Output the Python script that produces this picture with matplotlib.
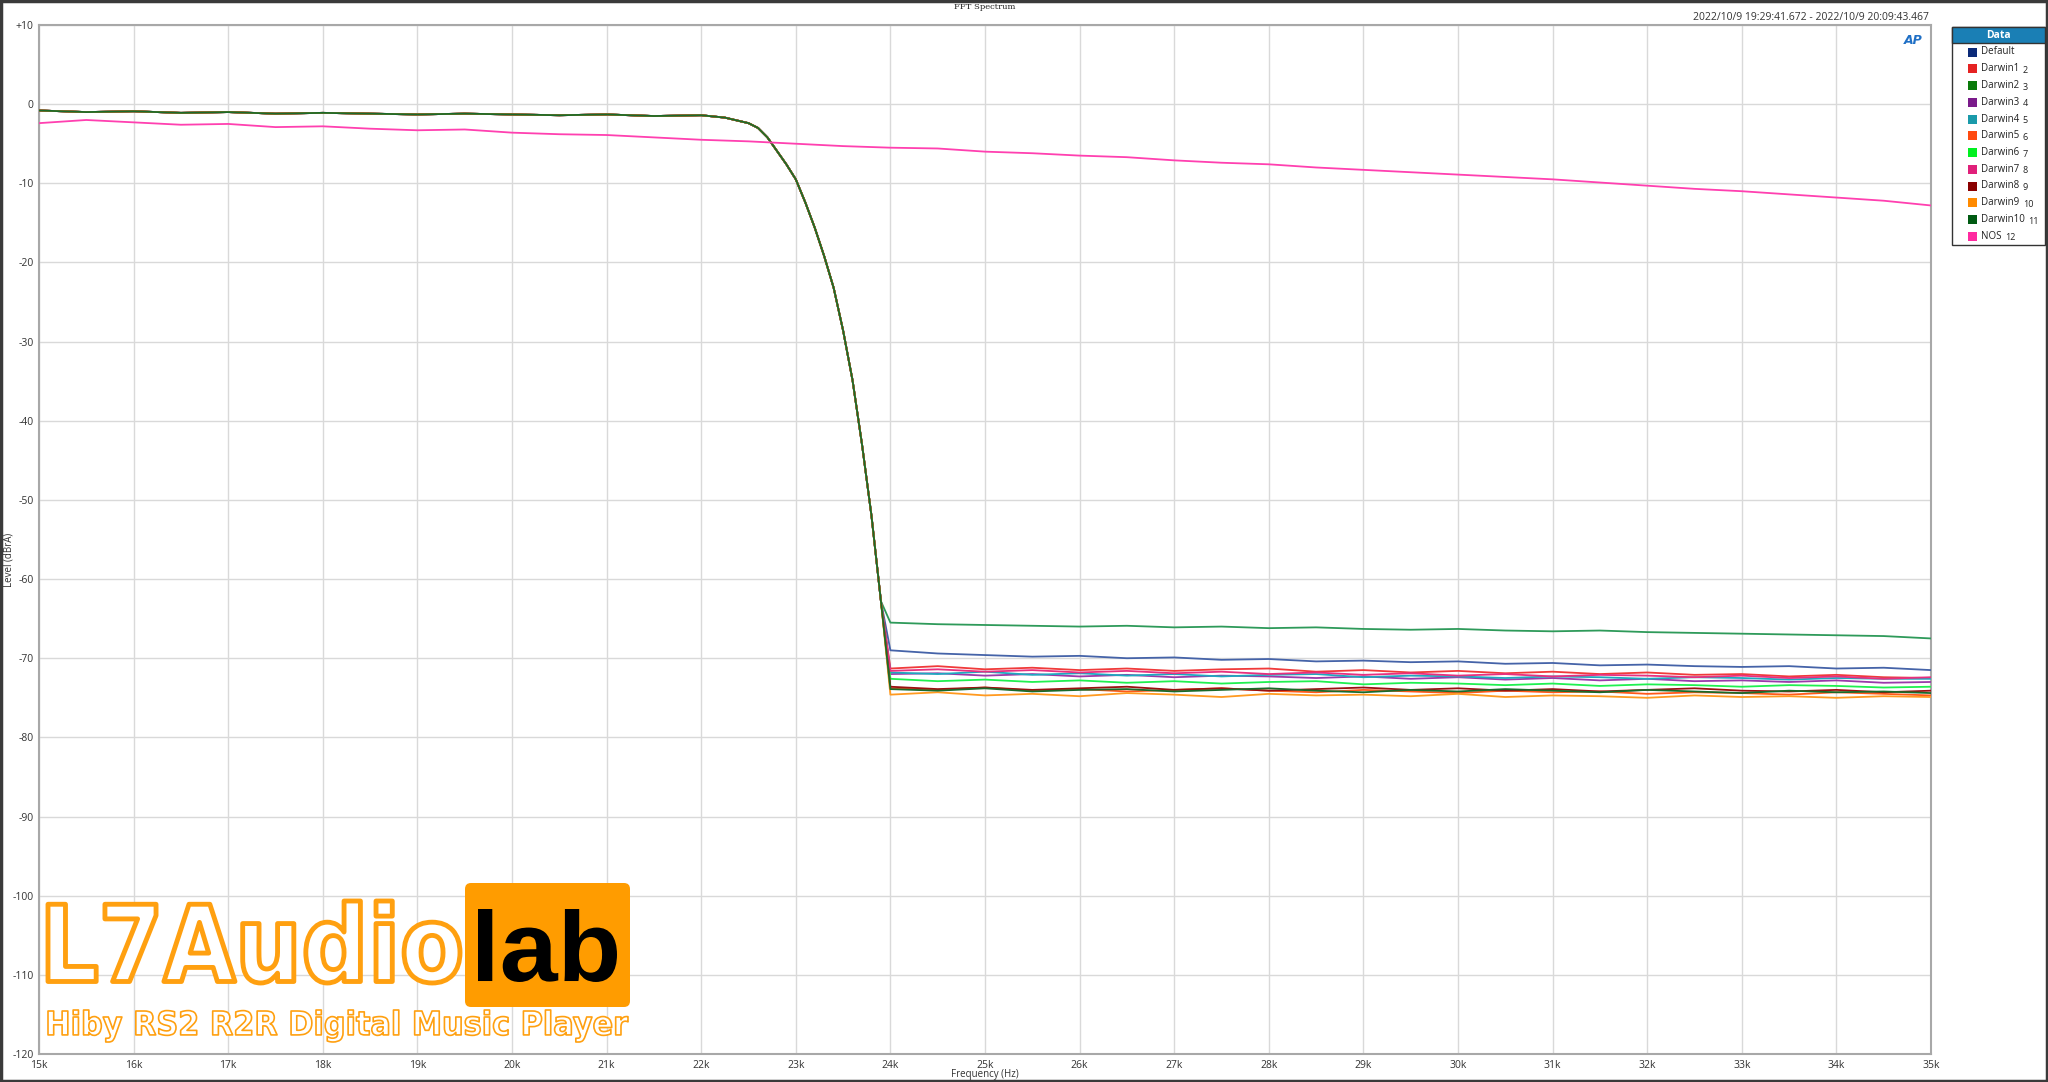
import numpy as np
import matplotlib
matplotlib.use('Agg')
import matplotlib.pyplot as plt
from matplotlib.patches import Rectangle, FancyBboxPatch, PathPatch
from matplotlib.textpath import TextPath
from matplotlib.font_manager import FontProperties
from matplotlib.transforms import Affine2D

# ---- data (frequency in kHz, level in dBrA) ----
names = ['Default', 'Darwin1', 'Darwin2', 'Darwin3', 'Darwin4', 'Darwin5',
         'Darwin6', 'Darwin7', 'Darwin8', 'Darwin9', 'Darwin10', 'NOS']
numbers = ['', '2', '3', '4', '5', '6', '7', '8', '9', '10', '11', '12']

# passband shared by all filtered curves
pass_f = [15.0, 15.5, 16.0, 16.5, 17.0, 17.5, 18.0, 18.5, 19.0, 19.5,
          20.0, 20.5, 21.0, 21.5, 22.0, 22.25]
pass_db = [-0.8, -1.0, -0.9, -1.1, -1.0, -1.2, -1.1, -1.2, -1.3, -1.2,
           -1.3, -1.4, -1.3, -1.5, -1.4, -1.7]

# roll-off
trans_f = [22.5, 22.6, 22.7, 22.8, 22.9, 23.0, 23.1, 23.2, 23.3, 23.4,
           23.5, 23.6, 23.7, 23.8, 23.9]
trans_db = [-2.4, -3.0, -4.2, -5.9, -7.6, -9.5, -12.4, -15.6, -19.2, -23.2,
            -28.6, -34.9, -43.0, -52.0, -62.8]

# stopband floor per curve
floor_f = [24.0, 24.5, 25.0, 25.5, 26.0, 26.5, 27.0, 27.5, 28.0, 28.5, 29.0, 29.5,
           30.0, 30.5, 31.0, 31.5, 32.0, 32.5, 33.0, 33.5, 34.0, 34.5, 35.0]
floor_default = [-69.0, -69.4, -69.6, -69.8, -69.7, -70.0, -69.9, -70.2, -70.1, -70.4, -70.3, -70.5,
                 -70.4, -70.7, -70.6, -70.9, -70.8, -71.0, -71.1, -71.0, -71.3, -71.2, -71.5]
floor_darwin1 = [-71.3, -71.0, -71.4, -71.2, -71.5, -71.3, -71.6, -71.4, -71.3, -71.7, -71.5, -71.8,
                 -71.6, -71.9, -71.7, -72.0, -71.8, -72.1, -72.0, -72.3, -72.1, -72.4, -72.5]
floor_darwin2 = [-65.5, -65.7, -65.8, -65.9, -66.0, -65.9, -66.1, -66.0, -66.2, -66.1, -66.3, -66.4,
                 -66.3, -66.5, -66.6, -66.5, -66.7, -66.8, -66.9, -67.0, -67.1, -67.2, -67.5]
floor_darwin3 = [-72.0, -71.9, -72.2, -72.0, -72.3, -72.1, -72.4, -72.2, -72.3, -72.5, -72.3, -72.6,
                 -72.4, -72.7, -72.5, -72.8, -72.6, -72.9, -72.8, -73.0, -72.8, -73.1, -73.0]
floor_darwin4 = [-71.8, -72.0, -71.7, -72.1, -71.9, -72.2, -72.0, -72.3, -72.1, -72.0, -72.4, -72.2,
                 -72.3, -72.5, -72.3, -72.4, -72.6, -72.4, -72.5, -72.7, -72.5, -72.6, -72.6]
floor_darwin5 = [-73.8, -74.0, -73.7, -74.1, -73.9, -74.2, -74.0, -73.8, -74.1, -74.3, -74.0, -74.2,
                 -74.4, -74.1, -74.3, -74.2, -74.5, -74.3, -74.4, -74.6, -74.3, -74.5, -74.7]
floor_darwin6 = [-72.6, -72.9, -72.7, -73.0, -72.8, -73.1, -72.9, -73.2, -73.0, -72.9, -73.3, -73.1,
                 -73.2, -73.4, -73.2, -73.5, -73.3, -73.4, -73.6, -73.4, -73.5, -73.7, -73.6]
floor_darwin7 = [-71.6, -71.4, -71.7, -71.5, -71.8, -71.6, -71.9, -71.7, -72.0, -71.8, -72.1, -71.9,
                 -72.2, -72.0, -72.3, -72.1, -72.2, -72.4, -72.2, -72.5, -72.3, -72.6, -72.4]
floor_darwin8 = [-73.6, -73.9, -73.7, -74.0, -73.8, -73.6, -74.0, -73.8, -74.1, -73.9, -73.7, -74.0,
                 -73.8, -74.1, -73.9, -74.2, -74.0, -73.8, -74.1, -74.2, -74.0, -74.3, -74.1]
floor_darwin9 = [-74.6, -74.3, -74.7, -74.5, -74.8, -74.4, -74.6, -74.9, -74.5, -74.7, -74.6, -74.8,
                 -74.5, -74.9, -74.7, -74.8, -75.0, -74.7, -74.9, -74.8, -75.0, -74.8, -74.9]
floor_darwin10 = [-73.9, -74.1, -73.8, -74.2, -74.0, -73.9, -74.2, -74.0, -73.8, -74.1, -74.3, -74.0,
                  -74.2, -73.9, -74.1, -74.3, -74.0, -74.2, -74.4, -74.1, -74.3, -74.2, -74.4]
floors = [floor_default, floor_darwin1, floor_darwin2, floor_darwin3, floor_darwin4, floor_darwin5,
          floor_darwin6, floor_darwin7, floor_darwin8, floor_darwin9, floor_darwin10]

# NOS (no oversampling) - slow roll-off only
nos_f = [15.0, 15.5, 16.0, 16.5, 17.0, 17.5, 18.0, 18.5, 19.0, 19.5, 20.0, 20.5, 21.0, 21.5,
         22.0, 22.5, 23.0, 23.5, 24.0, 24.5, 25.0, 25.5, 26.0, 26.5, 27.0, 27.5, 28.0, 28.5,
         29.0, 29.5, 30.0, 30.5, 31.0, 31.5, 32.0, 32.5, 33.0, 33.5, 34.0, 34.5, 35.0]
nos_db = [-2.4, -2.0, -2.3, -2.6, -2.5, -2.9, -2.8, -3.1, -3.3, -3.2, -3.6, -3.8, -3.9, -4.2,
          -4.5, -4.7, -5.0, -5.3, -5.5, -5.6, -6.0, -6.2, -6.5, -6.7, -7.1, -7.4, -7.6, -8.0,
          -8.3, -8.6, -8.9, -9.2, -9.5, -9.9, -10.3, -10.7, -11.0, -11.4, -11.8, -12.2, -12.8]

x_ticks = [15, 16, 17, 18, 19, 20, 21, 22, 23, 24, 25, 26, 27, 28, 29, 30, 31, 32, 33, 34, 35]
y_ticks = [10, 0, -10, -20, -30, -40, -50, -60, -70, -80, -90, -100, -110, -120]

# ---- styles ----
line_colors = ['#4563a8', '#f03a3a', '#2e9a5a', '#9a3aaa', '#20a8c0', '#ff5a1a',
               '#20f050', '#e8307f', '#9a1010', '#ff9a20', '#1a6a2a', '#ff40b0']
swatch_colors = ['#0b2a78', '#e52222', '#0a7a0a', '#7a1a8a', '#1a9aaa', '#ff4a10',
                 '#00f020', '#e0207a', '#8a0000', '#ff8a00', '#005a12', '#ff2aa0']
W, H = 2048, 1082
font = 'Open Sans'

fig = plt.figure(figsize=(W / 100, H / 100), dpi=100)
fig.patch.set_facecolor('white')

ax = fig.add_axes([39 / W, (H - 1054) / H, (1931 - 39) / W, (1054 - 25) / H])

for i in range(11):
    xs = pass_f + trans_f + floor_f
    ys = pass_db + trans_db + floors[i]
    ax.plot(xs, ys, color=line_colors[i], lw=1.3, zorder=3)
ax.plot(nos_f, nos_db, color=line_colors[11], lw=1.3, zorder=3)

ax.set_xlim(15, 35)
ax.set_ylim(-120, 10)
ax.set_xticks(x_ticks)
ax.set_xticklabels(['%dk' % k for k in x_ticks])
ax.set_yticks(y_ticks)
ax.set_yticklabels(['+10' if v > 0 else str(v) for v in y_ticks])
ax.tick_params(length=0, labelsize=7.5, labelcolor='#333333', pad=4)
for lbl in ax.get_xticklabels() + ax.get_yticklabels():
    lbl.set_fontfamily(font)
ax.grid(True, color='#d9d9d9', lw=1.0, zorder=0)
for sp in ax.spines.values():
    sp.set_color('#a8a8a8')
    sp.set_linewidth(1.5)

# titles / labels
fig.text(985 / W, 1 - 3 / H, 'FFT Spectrum', ha='center', va='top',
         fontsize=6, family='DejaVu Serif', color='#222222')
fig.text(1929 / W, 1 - 18 / H, '2022/10/9 19:29:41.672 - 2022/10/9 20:09:43.467',
         ha='right', va='center', fontsize=7.5, family=font, color='#333333')
fig.text(985 / W, 1 - 1074 / H, 'Frequency (Hz)', ha='center', va='center',
         fontsize=7, family=font, color='#333333')
fig.text(9 / W, 1 - 560 / H, 'Level (dBrA)', ha='center', va='center', rotation=90,
         fontsize=7, family=font, color='#333333')
fig.text(1913 / W, 1 - 40 / H, 'AP', ha='center', va='center', fontsize=9,
         fontweight='bold', fontstyle='italic', color='#1f6fc5', family='DejaVu Sans')

# overlay in pixel units for the legend and the watermark
ov = fig.add_axes([0, 0, 1, 1], zorder=5)
ov.set_xlim(0, W)
ov.set_ylim(0, H)
ov.axis('off')
ov.patch.set_alpha(0)

# figure frame
ov.add_patch(Rectangle((1, 1), W - 2, H - 2, fill=False, ec='#3a3a3a', lw=2.5))

# legend box
ov.add_patch(Rectangle((1952, H - 245), 93, 218, fc='white', ec='#333333', lw=1.0))
ov.add_patch(Rectangle((1952, H - 43), 93, 16, fc='#1a7fb5', ec='#333333', lw=1.0))
ov.text(1998, H - 35, 'Data', ha='center', va='center', color='white',
        fontsize=7.5, fontweight='bold', family=font)
for i, name in enumerate(names):
    yy = H - (52 + i * 16.75)
    ov.add_patch(Rectangle((1968, yy - 4.5), 9, 9, fc=swatch_colors[i], ec='none'))
    t = ov.text(1981, yy, name, ha='left', va='center', fontsize=7, family=font, color='#222222')
    if numbers[i]:
        ov.annotate(numbers[i], xy=(1, 0), xycoords=t, xytext=(2.5, -0.5),
                    textcoords='offset points', ha='left', va='bottom',
                    fontsize=6.5, family=font, color='#222222')


def fit_text(s, x0, x1, y_bottom, y_top, fp, fc, ec, lw):
    # stretch a text path into a pixel box (y measured from the top of the image)
    tp = TextPath((0, 0), s, size=1, prop=fp)
    ext = tp.get_extents()
    sx = (x1 - x0) / ext.width
    sy = (y_bottom - y_top) / ext.height
    tr = Affine2D().translate(-ext.x0, -ext.y0).scale(sx, sy).translate(x0, H - y_bottom)
    path = tr.transform_path(tp)
    ov.add_patch(PathPatch(path, fc=fc, ec=ec, lw=lw, joinstyle='round'))


orange = '#ffa010'
heavy = FontProperties(family='DejaVu Sans', weight='bold')
arial_bold = FontProperties(family='Liberation Sans', weight='bold')
fit_text('L7Audio', 48, 460, 983, 901, heavy, 'white', orange, 3.5)
ov.add_patch(FancyBboxPatch((468, H - 1004), 159, 118, boxstyle='round,pad=3,rounding_size=6',
                            fc='#ff9c00', ec='none'))
fit_text('lab', 478, 617, 982, 909, arial_bold, 'black', 'none', 0)
fit_text('Hiby RS2 R2R Digital Music Player', 48, 628, 1042, 1010, heavy, 'white', orange, 1.2)

fig.savefig('out.png', dpi=100)
